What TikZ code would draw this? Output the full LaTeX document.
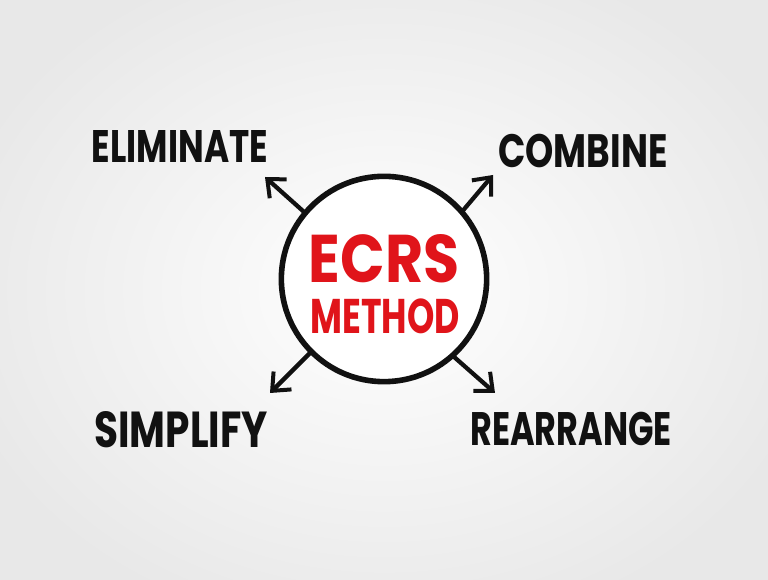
\documentclass[tikz,border=0pt]{standalone}
\usepackage{fontspec}
\setmainfont{Poppins}
\usetikzlibrary{arrows.meta}
\definecolor{ink}{HTML}{111111}
\definecolor{redink}{HTML}{E0141A}
\begin{document}
\begin{tikzpicture}[x=0.75pt,y=-0.75pt,
  lbl/.style={inner sep=0pt,text=ink,font=\bfseries},
  mid/.style={inner sep=0pt,text=redink,font=\bfseries},
  arr/.style={draw=ink,line width=3.2pt,line cap=round,-{Straight Barb[length=11pt,width=19pt,line width=3pt]}}]
\useasboundingbox (0,0) rectangle (768,580);
\shade[inner color=white,outer color=black!9] (-60,-60) rectangle (828,640);
\node[circle,draw=ink,fill=white,line width=4.2pt,minimum size=154pt,inner sep=0pt] (c) at (384,279) {};
\node[mid] (ecrs) at (384,259) {\resizebox{113pt}{36pt}{ECRS}};
\node[mid] (meth) at (385,316) {\resizebox{112pt}{26pt}{METHOD}};
\node[lbl] (elim) at (180,147) {\resizebox{132pt}{24pt}{ELIMINATE}};
\node[lbl] (comb) at (583,151) {\resizebox{127pt}{25pt}{COMBINE}};
\node[lbl] (simp) at (181,430) {\resizebox{130pt}{27pt}{SIMPLIFY}};
\node[lbl] (rear) at (571,429) {\resizebox{151pt}{25pt}{REARRANGE}};
\coordinate (t1) at (265,177);
\coordinate (t2) at (493,175);
\coordinate (t3) at (270,393);
\coordinate (t4) at (495,393);
\draw[arr] (c.140) -- (t1);
\draw[arr] (c.41) -- (t2);
\draw[arr] (c.225) -- (t3);
\draw[arr] (c.312) -- (t4);
\end{tikzpicture}
\end{document}
